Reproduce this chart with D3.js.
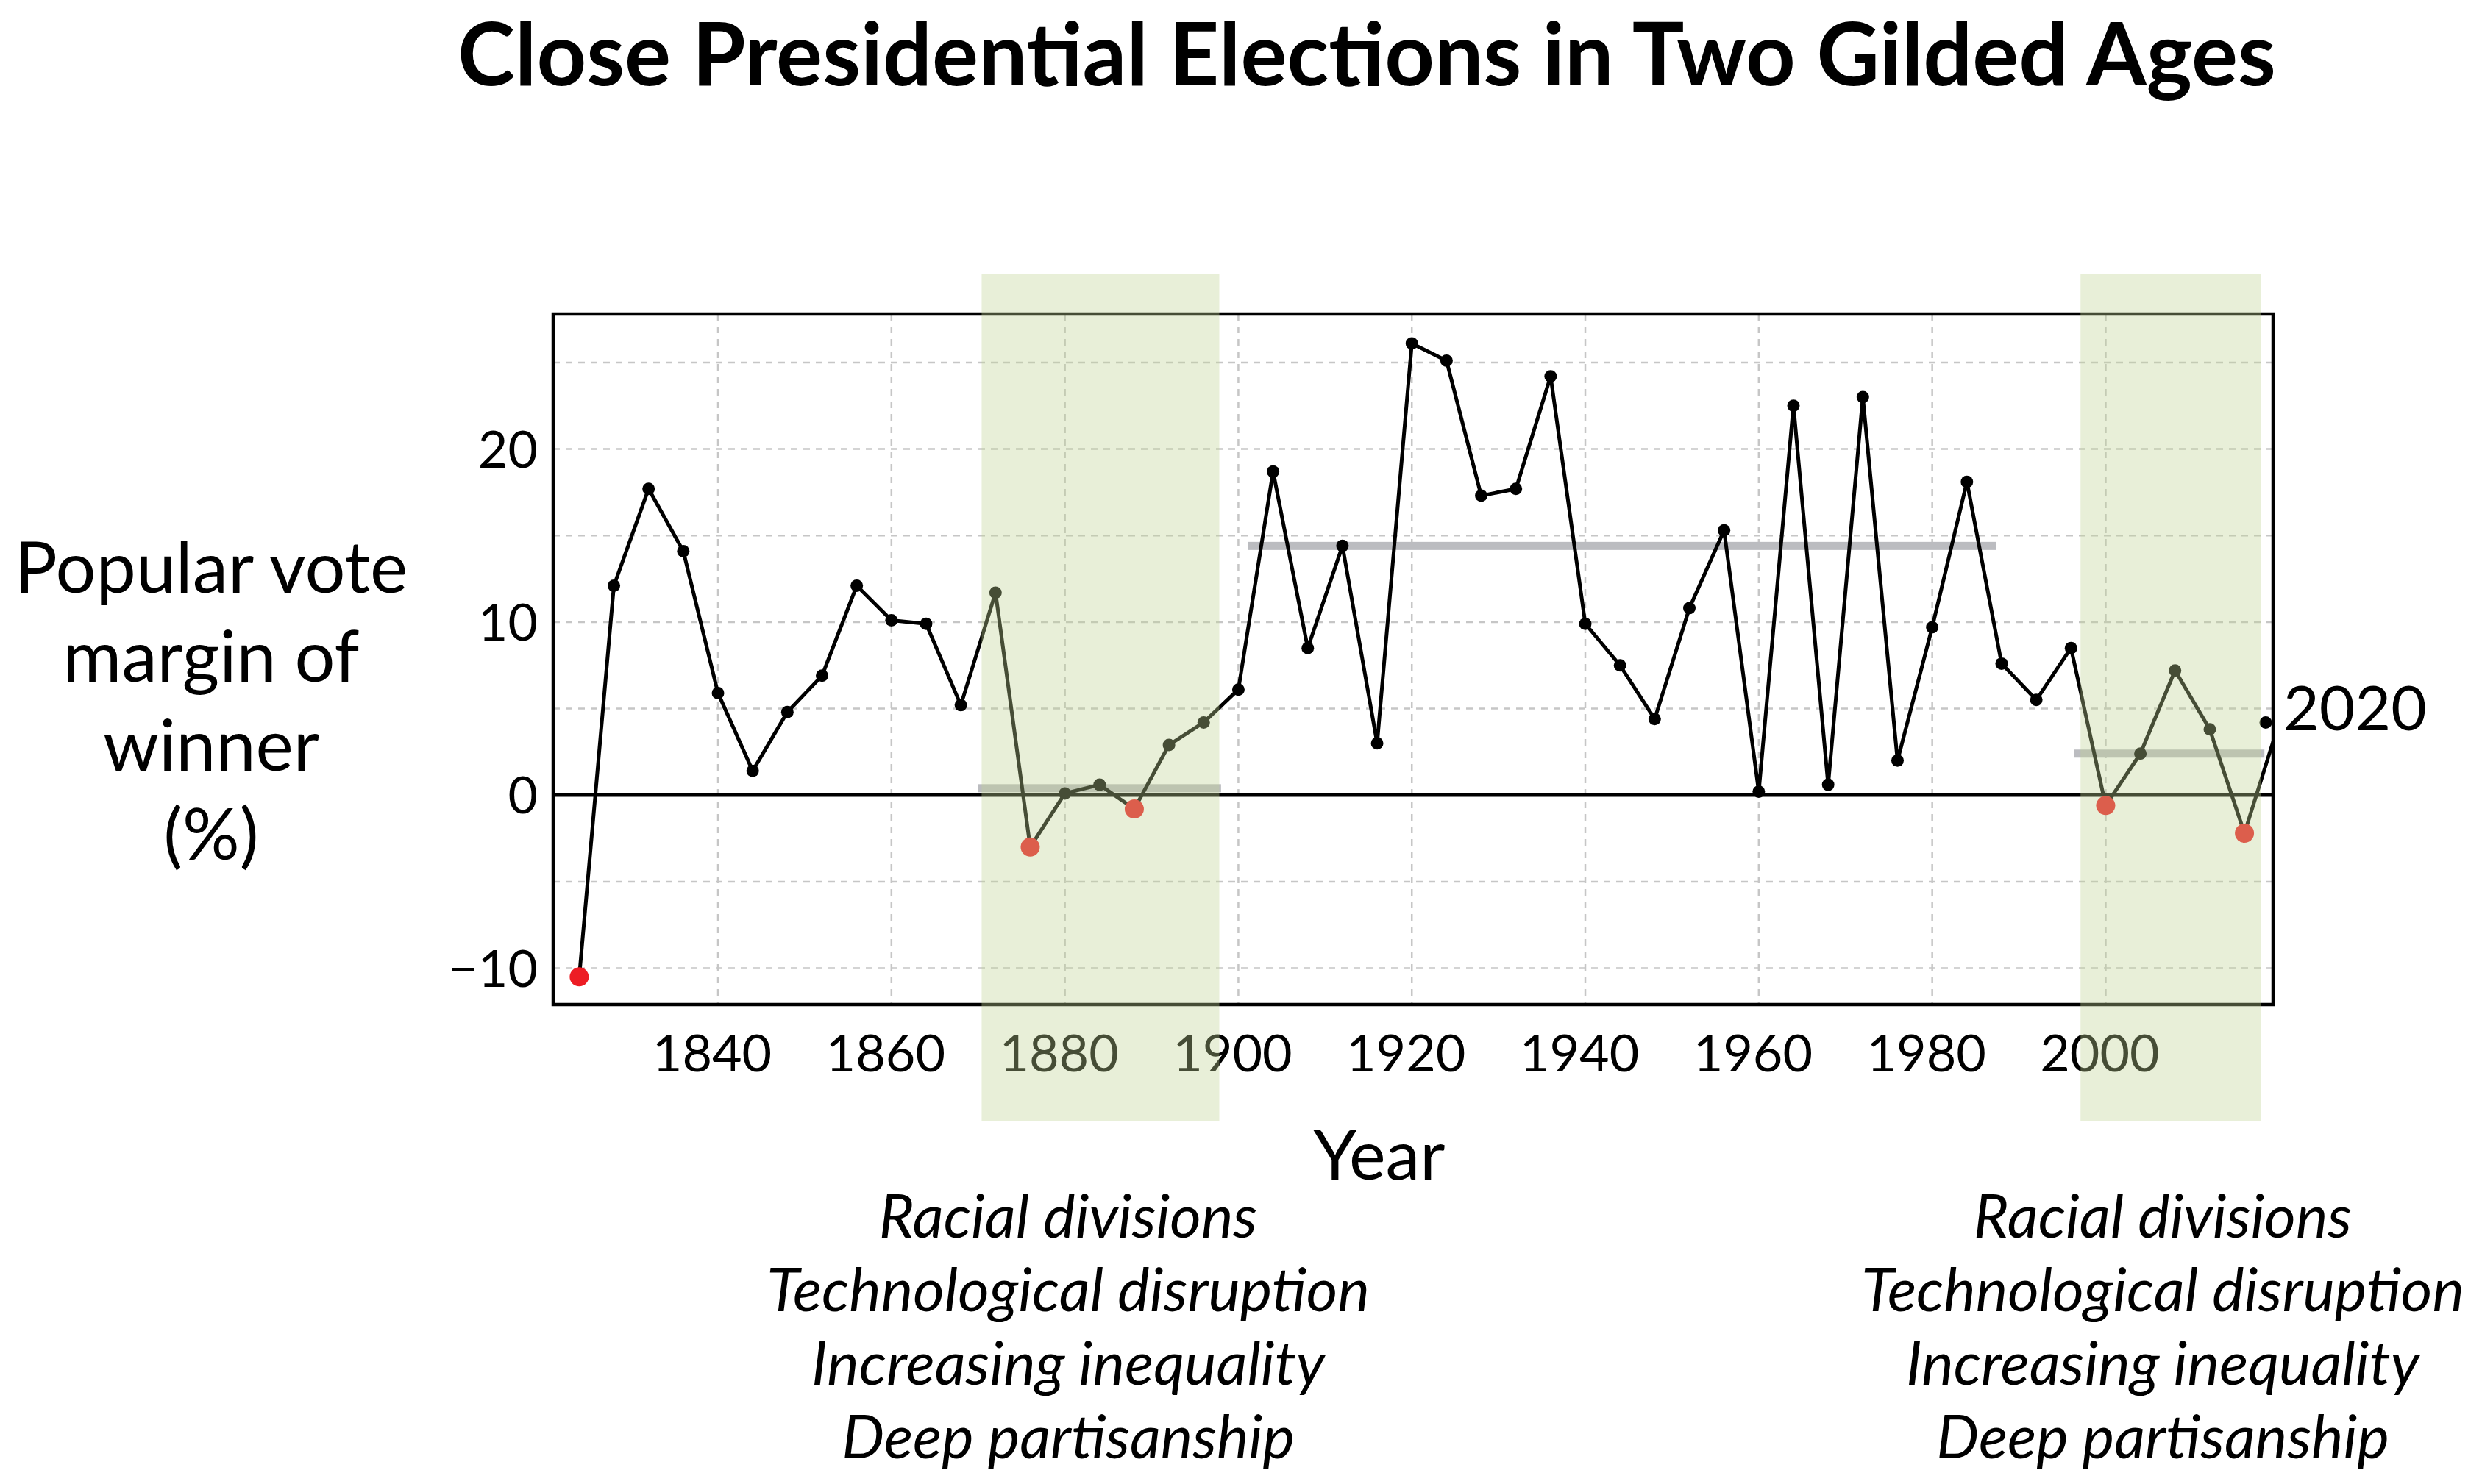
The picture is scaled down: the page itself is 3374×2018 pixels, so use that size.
<!DOCTYPE html>
<html>
<head>
<meta charset="utf-8">
<script src="https://cdnjs.cloudflare.com/ajax/libs/d3/7.8.5/d3.min.js"></script>
<style>
  html, body { margin: 0; padding: 0; background: #fff; }
  text { font-family: Lato, "Noto Sans", sans-serif; fill: #000; }
</style>
</head>
<body>
<svg id="chart" width="3374" height="2018"></svg>
<script>
// election years and popular vote margin of the winner (%)
var years = [1824, 1828, 1832, 1836, 1840, 1844, 1848, 1852, 1856, 1860,
             1864, 1868, 1872, 1876, 1880, 1884, 1888, 1892, 1896, 1900,
             1904, 1908, 1912, 1916, 1920, 1924, 1928, 1932, 1936, 1940,
             1944, 1948, 1952, 1956, 1960, 1964, 1968, 1972, 1976, 1980,
             1984, 1988, 1992, 1996, 2000, 2004, 2008, 2012, 2016, 2020];
var margins = [-10.5, 12.1, 17.7, 14.1, 5.9, 1.4, 4.8, 6.9, 12.1, 10.1,
               9.9, 5.2, 11.7, -3.0, 0.1, 0.6, -0.8, 2.9, 4.2, 6.1,
               18.7, 8.5, 14.4, 3.0, 26.1, 25.1, 17.3, 17.7, 24.2, 9.9,
               7.5, 4.4, 10.8, 15.3, 0.2, 22.5, 0.6, 23.0, 2.0, 9.7,
               18.1, 7.6, 5.5, 8.5, -0.6, 2.4, 7.2, 3.8, -2.2, 4.2];
// winner lost the popular vote
var lostPopular = [1824, 1876, 1888, 2000, 2016];

// the two gilded ages (shaded)
var eraStart = [1870.4, 1997.1];
var eraEnd = [1897.8, 2017.9];

// average margins over periods (grey bars)
var meanStart = [1870.0, 1901.1, 1996.4];
var meanEnd = [1898.0, 1987.4, 2018.3];
var meanValue = [0.4, 14.4, 2.4];

var xTicks = [1840, 1860, 1880, 1900, 1920, 1940, 1960, 1980, 2000];
var yGrid = [-10, -5, 5, 10, 15, 20, 25];
var yTicks = [-10, 0, 10, 20];

var notes = ["Racial divisions", "Technological disruption",
             "Increasing inequality", "Deep partisanship"];
var lastLabel = "2020";

var svg = d3.select("#chart");
var pLeft = 752, pRight = 3090, pTop = 427, pBottom = 1366;

var x = d3.scaleLinear().domain([1821, 2019.3]).range([pLeft, pRight]);
var y = d3.scaleLinear().domain([-12.1, 27.8]).range([pBottom, pTop]);

var data = years.map(function (yr, i) { return { year: yr, value: margins[i] }; });

/* title */
svg.append("text")
    .attr("x", 1858).attr("y", 116)
    .attr("text-anchor", "middle")
    .style("font-weight", "bold")
    .style("font-size", "118px")
    .text("Close Presidential Elections in Two Gilded Ages");

/* grid */
var grid = svg.append("g");
grid.selectAll("line.h").data(yGrid).enter().append("line")
    .attr("x1", pLeft).attr("x2", pRight)
    .attr("y1", function (d) { return y(d); })
    .attr("y2", function (d) { return y(d); })
    .style("stroke", "#c6c6c6").style("stroke-width", 2.5)
    .style("stroke-dasharray", "9,8");
grid.selectAll("line.v").data(xTicks).enter().append("line")
    .attr("y1", pTop).attr("y2", pBottom)
    .attr("x1", function (d) { return x(d); })
    .attr("x2", function (d) { return x(d); })
    .style("stroke", "#c6c6c6").style("stroke-width", 2.5)
    .style("stroke-dasharray", "9,8");

/* zero line */
svg.append("line")
    .attr("x1", pLeft).attr("x2", pRight)
    .attr("y1", y(0)).attr("y2", y(0))
    .style("stroke", "#000").style("stroke-width", 4.5);

/* mean bars */
svg.selectAll("rect.mean").data(meanValue).enter().append("rect")
    .attr("x", function (d, i) { return x(meanStart[i]); })
    .attr("width", function (d, i) { return x(meanEnd[i]) - x(meanStart[i]); })
    .attr("y", function (d) { return y(d) - 5.5; })
    .attr("height", 11)
    .style("fill", "#bbbcc0");

/* line */
svg.append("clipPath").attr("id", "plotclip")
    .append("rect").attr("x", pLeft).attr("y", pTop)
    .attr("width", pRight - pLeft).attr("height", pBottom - pTop);

var line = d3.line()
    .x(function (d) { return x(d.year); })
    .y(function (d) { return y(d.value); });

svg.append("path")
    .datum(data)
    .attr("clip-path", "url(#plotclip)")
    .attr("d", line)
    .style("fill", "none").style("stroke", "#000")
    .style("stroke-width", 5).style("stroke-linejoin", "round");

/* points */
svg.selectAll("circle.pt").data(data).enter().append("circle")
    .attr("cx", function (d) { return Math.min(x(d.year), pRight - 10); })
    .attr("cy", function (d) { return y(d.value); })
    .attr("r", function (d) { return lostPopular.indexOf(d.year) >= 0 ? 13 : 8.5; })
    .style("fill", function (d) { return lostPopular.indexOf(d.year) >= 0 ? "#ed1c24" : "#000"; });

/* frame */
svg.append("rect")
    .attr("x", pLeft).attr("y", pTop)
    .attr("width", pRight - pLeft).attr("height", pBottom - pTop)
    .style("fill", "none").style("stroke", "#000").style("stroke-width", 4.5);

/* axes labels */
svg.selectAll("text.xt").data(xTicks).enter().append("text")
    .attr("x", function (d) { return x(d) - 8; })
    .attr("y", 1457)
    .attr("text-anchor", "middle")
    .style("font-size", "70px")
    .text(function (d) { return d; });

svg.selectAll("text.yt").data(yTicks).enter().append("text")
    .attr("x", 731)
    .attr("y", function (d) { return y(d); })
    .attr("dy", "0.36em")
    .attr("text-anchor", "end")
    .style("font-size", "70px")
    .text(function (d) { return d < 0 ? "\u2212" + Math.abs(d) : d; });

svg.append("text")
    .attr("x", 1875).attr("y", 1604)
    .attr("text-anchor", "middle")
    .style("font-size", "94px")
    .text("Year");

var ylab = ["Popular vote", "margin of", "winner", "(%)"];
svg.selectAll("text.yl").data(ylab).enter().append("text")
    .attr("x", 287)
    .attr("y", function (d, i) { return 806 + i * 121; })
    .attr("text-anchor", "middle")
    .style("font-size", "97px")
    .text(function (d) { return d; });

svg.append("text")
    .attr("x", 3104).attr("y", 993)
    .style("font-size", "84px")
    .text(lastLabel);

/* notes under each gilded age */
[1452, 2940].forEach(function (cx) {
    svg.selectAll(null).data(notes).enter().append("text")
        .attr("x", cx)
        .attr("y", function (d, i) { return 1683 + i * 100; })
        .attr("text-anchor", "middle")
        .style("font-style", "italic")
        .style("font-size", "82px")
        .text(function (d) { return d; });
});

/* shaded gilded ages, laid over everything */
svg.selectAll("rect.era").data(eraStart).enter().append("rect")
    .attr("x", function (d) { return x(d); })
    .attr("width", function (d, i) { return x(eraEnd[i]) - x(d); })
    .attr("y", 372).attr("height", 1525 - 372)
    .style("fill", "rgb(192,211,148)").style("opacity", 0.365);
</script>
</body>
</html>
